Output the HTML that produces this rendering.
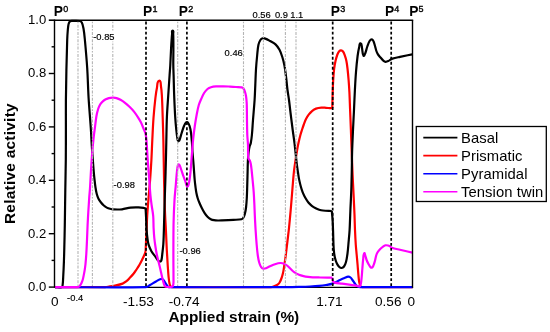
<!DOCTYPE html>
<html><head><meta charset="utf-8"><style>
html,body{margin:0;padding:0;background:#fff;width:550px;height:332px;overflow:hidden}
</style></head><body>
<svg width="550" height="332" viewBox="0 0 550 332" style="display:block;font-family:'Liberation Sans',Arial,sans-serif"><rect width="550" height="332" fill="#fff"/><line x1="54.5" y1="287.3" x2="413.1" y2="287.3" stroke="#000" stroke-width="1.3"/><path d="M55.00,287.10 C71.67,287.10 88.33,287.25 105.00,287.10 C106.34,287.09 107.67,286.80 109.00,286.60 C111.01,286.30 113.02,286.04 115.00,285.60 C117.56,285.04 120.15,284.54 122.60,283.60 C124.03,283.05 125.31,282.15 126.50,281.20 C127.83,280.14 128.93,278.83 130.10,277.60 C131.27,276.37 132.44,275.13 133.50,273.80 C134.44,272.62 135.26,271.35 136.10,270.10 C137.26,268.35 138.45,266.61 139.50,264.80 C140.48,263.11 141.34,261.35 142.20,259.60 C142.94,258.09 143.65,256.55 144.30,255.00 C144.78,253.85 145.17,252.67 145.60,251.50 M145.60,251.50 C145.77,247.67 145.92,243.83 146.10,240.00 C146.26,236.67 146.45,233.33 146.60,230.00 C146.81,225.33 146.91,220.66 147.20,216.00 C147.61,209.33 148.16,202.66 148.70,196.00 C149.13,190.66 149.70,185.34 150.10,180.00 C150.60,173.34 151.03,166.67 151.40,160.00 C151.77,153.34 151.97,146.67 152.30,140.00 C152.67,132.66 152.96,125.32 153.50,118.00 C153.99,111.32 154.64,104.65 155.40,98.00 C155.80,94.48 156.26,90.96 157.00,87.50 C157.50,85.18 156.80,81.28 159.10,80.70 C161.07,80.21 160.63,84.50 161.00,86.50 C161.57,89.63 161.72,92.82 161.90,96.00 C162.29,102.99 162.47,110.00 162.70,117.00 C162.97,125.33 163.22,133.67 163.40,142.00 C163.69,155.33 163.81,168.67 164.10,182.00 C164.31,191.33 164.55,200.67 164.90,210.00 C165.15,216.67 165.58,223.33 165.90,230.00 C166.22,236.67 166.46,243.34 166.80,250.00 C167.06,255.00 167.37,260.00 167.70,265.00 C167.97,269.00 168.20,273.01 168.60,277.00 C168.83,279.35 169.07,281.70 169.60,284.00 C169.81,284.93 170.22,285.85 170.80,286.60 C171.07,286.94 171.57,287.10 172.00,287.10 C205.00,287.26 238.00,287.36 271.00,287.10 C272.03,287.09 273.02,286.64 274.00,286.30 C275.03,285.94 276.07,285.58 277.00,285.00 C277.86,284.46 278.73,283.84 279.30,283.00 C280.23,281.63 280.83,280.05 281.40,278.50 C282.06,276.71 282.58,274.86 283.00,273.00 C283.52,270.69 283.83,268.34 284.20,266.00 C284.63,263.34 285.03,260.67 285.40,258.00 C285.77,255.34 286.07,252.67 286.40,250.00 C286.81,246.67 287.21,243.33 287.60,240.00 C288.07,236.00 288.59,232.01 289.00,228.00 C289.62,222.01 290.17,216.00 290.70,210.00 C291.34,202.67 291.88,195.33 292.50,188.00 C292.95,182.67 293.31,177.32 293.90,172.00 C294.38,167.65 295.06,163.33 295.70,159.00 C296.19,155.66 296.71,152.32 297.30,149.00 C297.71,146.66 298.19,144.32 298.70,142.00 C299.22,139.66 299.77,137.32 300.40,135.00 C300.90,133.15 301.51,131.33 302.10,129.50 C302.64,127.83 303.19,126.15 303.80,124.50 C304.49,122.65 305.12,120.77 306.00,119.00 C306.76,117.46 307.65,115.96 308.70,114.60 C309.76,113.22 310.95,111.91 312.30,110.80 C313.41,109.89 314.65,109.08 316.00,108.60 C317.73,107.99 319.58,107.75 321.40,107.60 C322.93,107.48 324.47,107.70 326.00,107.80 C327.50,107.90 329.00,108.10 330.50,108.20 C331.10,108.24 331.70,108.20 332.30,108.20 M332.30,108.20 C332.40,103.80 332.46,99.40 332.60,95.00 C332.76,90.00 332.91,85.00 333.20,80.00 C333.41,76.33 333.66,72.65 334.10,69.00 C334.43,66.31 334.90,63.64 335.50,61.00 C336.00,58.80 336.60,56.61 337.40,54.50 C337.84,53.33 338.36,52.13 339.20,51.20 C339.66,50.69 340.41,50.35 341.10,50.40 C341.83,50.46 342.56,50.91 343.00,51.50 C343.85,52.65 344.32,54.05 344.80,55.40 C345.45,57.23 346.01,59.10 346.40,61.00 C346.91,63.47 347.21,65.99 347.50,68.50 C347.94,72.33 348.29,76.16 348.60,80.00 C348.92,84.00 349.20,88.00 349.40,92.00 C349.70,98.00 349.86,104.00 350.10,110.00 C350.36,116.67 350.65,123.33 350.90,130.00 C351.18,137.33 351.42,144.67 351.70,152.00 C351.99,159.67 352.26,167.33 352.60,175.00 C352.89,181.67 353.28,188.33 353.60,195.00 C353.92,201.67 354.23,208.33 354.50,215.00 C354.70,220.00 354.78,225.00 355.00,230.00 C355.22,235.00 355.46,240.00 355.80,245.00 C356.03,248.34 356.40,251.67 356.70,255.00 C357.00,258.33 357.32,261.67 357.60,265.00 C357.88,268.33 358.09,271.67 358.40,275.00 C358.62,277.34 358.77,279.69 359.20,282.00 C359.47,283.44 359.79,284.92 360.50,286.20 C360.78,286.71 361.42,287.09 362.00,287.10 C378.93,287.39 395.87,287.10 412.80,287.10" fill="none" stroke="#ff0000" stroke-width="2.2" stroke-linejoin="round"/><path d="M55.00,287.10 C57.20,287.10 59.46,287.61 61.60,287.10 C62.27,286.94 62.50,285.98 62.60,285.30 C63.08,281.89 63.11,278.44 63.30,275.00 C63.54,270.67 63.74,266.33 63.90,262.00 C64.07,257.33 64.19,252.67 64.30,248.00 C64.49,240.33 64.67,232.67 64.80,225.00 C65.00,213.33 65.12,201.67 65.30,190.00 C65.45,180.00 65.70,170.00 65.80,160.00 C65.90,149.33 65.88,138.67 65.90,128.00 C65.92,118.67 65.82,109.33 65.90,100.00 C65.99,90.00 66.18,80.00 66.40,70.00 C66.62,60.00 66.85,50.00 67.20,40.00 C67.32,36.66 67.51,33.33 67.80,30.00 C67.98,27.99 68.11,25.96 68.60,24.00 C68.85,23.02 69.21,21.93 70.00,21.30 C70.66,20.77 71.66,20.93 72.50,20.90 C74.83,20.83 77.20,20.60 79.50,21.00 C80.40,21.16 81.37,21.69 81.80,22.50 C82.78,24.33 83.13,26.45 83.50,28.50 C84.13,31.97 84.47,35.49 84.80,39.00 C85.70,48.66 86.58,58.32 87.20,68.00 C87.84,77.99 88.00,88.01 88.60,98.00 C89.20,108.01 90.13,118.00 90.80,128.00 C91.20,134.00 91.42,140.00 91.80,146.00 C92.05,150.00 92.40,154.00 92.70,158.00 C93.00,162.00 93.26,166.00 93.60,170.00 C93.86,173.14 94.16,176.27 94.50,179.40 C94.79,182.10 95.09,184.81 95.50,187.50 C95.82,189.61 96.15,191.73 96.70,193.80 C97.15,195.51 97.72,197.21 98.50,198.80 C99.16,200.13 100.08,201.33 101.00,202.50 C101.85,203.57 102.77,204.60 103.80,205.50 C104.72,206.31 105.72,207.03 106.80,207.60 C107.81,208.14 108.90,208.50 110.00,208.80 C111.14,209.11 112.32,209.35 113.50,209.40 C116.33,209.52 119.18,209.60 122.00,209.30 C124.87,209.00 127.63,207.93 130.50,207.60 C133.15,207.29 135.83,207.36 138.50,207.40 C140.17,207.43 141.84,207.57 143.50,207.80 C144.22,207.90 144.90,208.20 145.60,208.40 M145.60,208.40 C145.77,211.60 145.95,214.80 146.10,218.00 C146.29,222.00 146.34,226.00 146.60,230.00 C146.77,232.67 147.05,235.34 147.40,238.00 C147.68,240.15 147.87,242.33 148.50,244.40 C149.21,246.76 150.18,249.06 151.40,251.20 C152.60,253.32 154.27,255.13 155.70,257.10 C156.54,258.26 157.22,259.55 158.20,260.60 C158.65,261.08 159.24,261.60 159.90,261.60 C160.47,261.60 161.14,261.15 161.30,260.60 C162.01,258.14 162.09,255.54 162.40,253.00 C162.75,250.14 163.08,247.27 163.30,244.40 C163.51,241.60 163.60,238.80 163.70,236.00 C163.87,231.33 163.97,226.67 164.10,222.00 C164.30,214.67 164.48,207.33 164.70,200.00 C164.88,194.00 165.12,188.00 165.30,182.00 C165.52,174.67 165.72,167.33 165.90,160.00 C166.05,154.00 166.16,148.00 166.30,142.00 C166.49,133.67 166.56,125.33 166.90,117.00 C167.19,109.99 167.75,103.00 168.20,96.00 C168.65,89.00 169.13,82.00 169.60,75.00 C169.83,71.67 170.11,68.34 170.30,65.00 C170.61,59.34 170.81,53.67 171.10,48.00 C171.24,45.33 171.41,42.67 171.60,40.00 C171.74,38.00 171.87,35.99 172.10,34.00 C172.23,32.86 171.55,30.60 172.70,30.60 C173.85,30.60 173.12,32.86 173.20,34.00 C173.34,36.00 173.32,38.00 173.35,40.00 C173.39,42.67 173.41,45.33 173.40,48.00 C173.39,53.67 173.26,59.33 173.30,65.00 C173.32,68.33 173.50,71.67 173.60,75.00 C173.80,82.00 173.93,89.00 174.20,96.00 C174.47,103.00 174.77,110.01 175.20,117.00 C175.47,121.34 175.86,125.67 176.30,130.00 C176.59,132.84 176.90,135.69 177.40,138.50 C177.57,139.43 177.53,140.65 178.30,141.20 C178.76,141.53 179.28,140.52 179.50,140.00 C180.37,137.91 180.81,135.66 181.50,133.50 C182.31,130.99 182.99,128.43 184.00,126.00 C184.56,124.65 185.14,123.21 186.20,122.20 C186.59,121.83 187.44,122.00 187.80,122.40 C188.69,123.40 189.19,124.72 189.60,126.00 C190.23,127.95 190.61,129.97 190.90,132.00 C191.38,135.32 191.63,138.66 191.90,142.00 C192.17,145.33 192.25,148.67 192.50,152.00 C192.82,156.34 193.26,160.66 193.60,165.00 C193.99,170.00 194.27,175.01 194.70,180.00 C194.90,182.34 195.20,184.67 195.50,187.00 C195.76,189.01 196.01,191.01 196.40,193.00 C196.75,194.79 197.17,196.56 197.70,198.30 C198.17,199.83 198.78,201.32 199.40,202.80 C200.14,204.56 200.94,206.30 201.80,208.00 C202.64,209.66 203.49,211.33 204.50,212.90 C205.39,214.28 206.34,215.64 207.50,216.80 C208.46,217.76 209.59,218.57 210.80,219.20 C211.79,219.72 212.90,220.00 214.00,220.20 C215.32,220.44 216.66,220.47 218.00,220.50 C219.30,220.53 220.60,220.46 221.90,220.40 C225.73,220.23 229.57,220.02 233.40,219.80 C236.10,219.65 238.86,219.90 241.50,219.30 C242.37,219.10 243.03,218.26 243.50,217.50 C244.19,216.38 244.58,215.08 244.90,213.80 C245.45,211.57 245.83,209.29 246.10,207.00 C246.46,204.01 246.63,201.00 246.80,198.00 C247.00,194.34 247.09,190.67 247.20,187.00 C247.35,182.00 247.47,177.00 247.60,172.00 C247.70,168.17 247.71,164.33 247.90,160.50 C248.04,157.66 248.26,154.82 248.60,152.00 C248.82,150.15 249.16,148.31 249.60,146.50 C249.89,145.30 250.56,144.21 250.80,143.00 C251.33,140.36 251.64,137.68 251.90,135.00 C252.38,130.01 252.61,125.00 253.00,120.00 C253.51,113.33 254.16,106.67 254.60,100.00 C254.93,95.01 255.07,90.00 255.30,85.00 C255.54,79.67 255.66,74.33 256.00,69.00 C256.30,64.33 256.73,59.66 257.20,55.00 C257.53,51.66 257.70,48.28 258.40,45.00 C258.77,43.24 259.43,41.51 260.40,40.00 C260.91,39.20 261.78,38.56 262.70,38.30 C263.54,38.06 264.48,38.30 265.30,38.60 C266.95,39.21 268.47,40.13 270.00,41.00 C271.87,42.07 273.92,42.94 275.50,44.40 C277.14,45.92 278.44,47.83 279.50,49.80 C280.72,52.07 281.52,54.54 282.30,57.00 C283.16,59.72 283.88,62.49 284.40,65.30 C285.18,69.50 285.67,73.76 286.20,78.00 C286.70,81.99 286.99,86.01 287.50,90.00 C287.93,93.34 288.56,96.66 289.00,100.00 C289.66,104.99 290.18,110.00 290.80,115.00 C291.42,120.00 292.04,125.00 292.70,130.00 C293.27,134.34 293.96,138.66 294.50,143.00 C295.00,146.99 295.36,151.00 295.80,155.00 C296.16,158.33 296.48,161.67 296.90,165.00 C297.22,167.51 297.62,170.00 298.00,172.50 C298.35,174.80 298.64,177.12 299.10,179.40 C299.58,181.79 300.15,184.15 300.80,186.50 C301.35,188.49 301.94,190.48 302.70,192.40 C303.44,194.26 304.32,196.06 305.30,197.80 C306.22,199.43 307.22,201.04 308.40,202.50 C309.40,203.73 310.56,204.82 311.80,205.80 C313.01,206.76 314.33,207.58 315.70,208.30 C316.81,208.89 318.00,209.33 319.20,209.70 C320.41,210.07 321.64,210.37 322.90,210.50 C325.86,210.80 328.83,210.83 331.80,211.00 M331.80,211.00 C332.07,214.00 332.41,216.99 332.60,220.00 C332.85,224.00 332.95,228.00 333.10,232.00 C333.31,237.67 333.29,243.34 333.70,249.00 C333.92,252.02 334.34,255.04 335.00,258.00 C335.45,260.00 336.12,261.95 337.00,263.80 C337.57,264.99 338.32,266.12 339.30,267.00 C339.95,267.58 340.84,268.09 341.70,268.00 C342.61,267.90 343.47,267.24 344.00,266.50 C344.96,265.17 345.57,263.59 346.00,262.00 C346.75,259.22 347.12,256.35 347.50,253.50 C347.96,250.01 348.19,246.50 348.50,243.00 C348.89,238.67 349.35,234.34 349.60,230.00 C349.98,223.34 350.12,216.67 350.40,210.00 C350.68,203.33 351.07,196.67 351.30,190.00 C351.53,183.34 351.66,176.67 351.80,170.00 C351.93,164.00 351.92,158.00 352.10,152.00 C352.32,144.66 352.67,137.33 353.00,130.00 C353.27,124.00 353.61,118.00 353.90,112.00 C354.25,104.67 354.52,97.33 354.90,90.00 C355.22,84.00 355.52,77.99 356.00,72.00 C356.42,66.66 356.92,61.32 357.60,56.00 C357.99,52.98 358.49,49.96 359.20,47.00 C359.50,45.75 359.39,42.97 360.60,43.40 C362.11,43.94 361.64,46.44 362.00,48.00 C362.60,50.58 362.17,53.51 363.50,55.80 C363.98,56.62 364.84,54.38 365.20,53.50 C366.12,51.24 366.49,48.80 367.30,46.50 C367.96,44.63 368.53,42.67 369.60,41.00 C370.11,40.20 370.95,39.18 371.90,39.30 C372.82,39.41 373.21,40.66 373.60,41.50 C374.26,42.93 374.56,44.49 375.00,46.00 C375.43,47.49 375.70,49.03 376.20,50.50 C376.63,51.77 377.10,53.06 377.80,54.20 C378.54,55.41 379.57,56.42 380.50,57.50 C381.41,58.56 382.24,59.70 383.30,60.60 C383.96,61.16 384.74,61.71 385.60,61.80 C386.53,61.89 387.45,61.48 388.30,61.10 C389.11,60.74 389.74,60.05 390.50,59.60 C391.14,59.22 391.78,58.80 392.50,58.60 C394.97,57.90 397.49,57.44 400.00,56.90 C404.10,56.01 408.20,55.17 412.30,54.30" fill="none" stroke="#000" stroke-width="2.2" stroke-linejoin="round"/><path d="M55.00,287.10 C85.33,287.10 115.67,287.77 146.00,287.10 C147.51,287.07 148.69,285.74 150.00,285.00 C152.02,283.87 153.97,282.61 156.00,281.50 C157.64,280.61 159.17,279.37 161.00,279.00 C161.88,278.82 162.84,279.39 163.50,280.00 C164.42,280.86 164.80,282.15 165.50,283.20 C166.14,284.15 166.73,285.15 167.50,286.00 C167.91,286.46 168.38,287.09 169.00,287.10 C210.00,287.46 251.00,287.16 292.00,287.10 C294.67,287.10 297.33,286.99 300.00,286.90 C303.33,286.79 306.67,286.67 310.00,286.50 C313.04,286.34 316.07,286.18 319.10,285.90 C321.41,285.68 323.71,285.39 326.00,285.00 C328.18,284.63 330.41,284.35 332.50,283.60 C335.11,282.67 337.49,281.17 340.00,280.00 C341.49,279.31 342.98,278.63 344.50,278.00 C345.72,277.49 346.89,276.71 348.20,276.60 C349.02,276.53 349.85,276.99 350.50,277.50 C351.34,278.16 351.87,279.14 352.50,280.00 C353.21,280.97 353.81,282.01 354.50,283.00 C355.05,283.78 355.51,284.64 356.20,285.30 C356.86,285.93 357.67,286.41 358.50,286.80 C358.96,287.02 359.49,287.10 360.00,287.10 C377.60,287.20 395.20,287.10 412.80,287.10" fill="none" stroke="#0000ff" stroke-width="2.2" stroke-linejoin="round"/><path d="M55.00,287.10 C62.43,287.10 69.87,287.26 77.30,287.10 C77.86,287.09 78.43,286.90 78.90,286.60 C79.46,286.25 79.91,285.74 80.30,285.20 C80.79,284.52 81.16,283.76 81.50,283.00 C82.00,281.86 82.47,280.70 82.80,279.50 C83.27,277.82 83.57,276.11 83.90,274.40 C84.23,272.71 84.54,271.01 84.80,269.30 C85.07,267.54 85.33,265.77 85.50,264.00 C85.83,260.67 86.09,257.34 86.30,254.00 C86.59,249.34 86.79,244.67 87.00,240.00 C87.22,235.00 87.37,230.00 87.60,225.00 C87.80,220.67 88.04,216.33 88.30,212.00 C88.58,207.33 88.87,202.66 89.20,198.00 C89.44,194.66 89.78,191.34 90.00,188.00 C90.35,182.67 90.58,177.33 90.90,172.00 C91.18,167.33 91.46,162.66 91.80,158.00 C92.09,154.00 92.44,150.00 92.80,146.00 C93.10,142.66 93.41,139.33 93.80,136.00 C94.15,132.99 94.61,130.00 95.00,127.00 C95.47,123.40 95.79,119.78 96.40,116.20 C96.79,113.94 97.34,111.70 98.00,109.50 C98.41,108.12 98.93,106.77 99.60,105.50 C100.17,104.42 100.89,103.41 101.70,102.50 C102.53,101.57 103.46,100.70 104.50,100.00 C105.42,99.38 106.46,98.96 107.50,98.60 C108.47,98.26 109.49,98.06 110.50,97.90 C111.42,97.76 112.36,97.67 113.30,97.70 C114.37,97.74 115.47,97.80 116.50,98.10 C117.89,98.51 119.23,99.10 120.50,99.80 C122.08,100.67 123.58,101.69 125.00,102.80 C126.58,104.03 128.07,105.40 129.50,106.80 C131.07,108.33 132.62,109.90 134.00,111.60 C135.46,113.40 136.75,115.35 138.00,117.30 C139.08,118.98 140.12,120.70 141.00,122.50 C142.03,124.61 142.84,126.82 143.70,129.00 C144.41,130.79 145.28,132.53 145.70,134.40 C146.26,136.89 146.39,139.46 146.60,142.00 C146.96,146.33 147.12,150.67 147.40,155.00 C147.68,159.33 147.97,163.67 148.30,168.00 C148.60,172.00 148.99,176.00 149.30,180.00 C149.69,185.00 149.94,190.01 150.40,195.00 C150.71,198.34 151.16,201.67 151.60,205.00 C152.09,208.67 152.88,212.31 153.20,216.00 C153.55,219.99 153.40,224.00 153.60,228.00 C153.77,231.34 153.97,234.68 154.30,238.00 C154.60,241.01 155.05,244.01 155.50,247.00 C155.85,249.34 156.24,251.68 156.70,254.00 C157.10,256.01 157.62,258.00 158.10,260.00 C158.58,262.00 159.12,263.99 159.60,266.00 C160.16,268.33 160.67,270.67 161.20,273.00 C161.73,275.33 162.20,277.68 162.80,280.00 C163.24,281.68 163.60,283.41 164.30,285.00 C164.62,285.71 165.04,286.62 165.80,286.80 C167.81,287.27 170.02,287.41 172.00,286.80 C172.84,286.54 173.15,285.37 173.30,284.50 C173.66,282.36 173.49,280.17 173.50,278.00 C173.52,272.67 173.42,267.33 173.40,262.00 C173.38,256.33 173.37,250.67 173.40,245.00 C173.44,237.33 173.41,229.66 173.60,222.00 C173.78,214.66 174.06,207.33 174.50,200.00 C174.80,194.99 175.38,190.00 175.80,185.00 C176.08,181.67 176.29,178.33 176.60,175.00 C176.82,172.66 177.02,170.32 177.40,168.00 C177.59,166.81 177.61,165.49 178.30,164.50 C178.55,164.14 179.28,164.63 179.50,165.00 C180.23,166.22 180.53,167.66 181.00,169.00 C181.76,171.19 182.43,173.41 183.20,175.60 C183.83,177.41 184.58,179.18 185.20,181.00 C185.71,182.49 185.98,184.06 186.60,185.50 C186.80,185.96 187.16,186.82 187.60,186.60 C188.29,186.25 188.39,185.25 188.60,184.50 C189.06,182.86 189.34,181.18 189.60,179.50 C189.98,177.01 190.26,174.51 190.50,172.00 C190.82,168.67 191.04,165.33 191.30,162.00 C191.61,158.00 191.87,154.00 192.20,150.00 C192.53,146.00 192.87,141.99 193.30,138.00 C193.73,133.99 194.22,129.99 194.80,126.00 C195.39,121.99 196.04,117.98 196.80,114.00 C197.38,110.98 197.93,107.95 198.80,105.00 C199.41,102.93 200.33,100.97 201.20,99.00 C202.10,96.97 202.92,94.88 204.10,93.00 C205.03,91.52 206.16,90.13 207.50,89.00 C208.50,88.16 209.75,87.58 211.00,87.20 C212.61,86.71 214.32,86.52 216.00,86.40 C218.39,86.22 220.80,86.27 223.20,86.30 C225.47,86.33 227.73,86.48 230.00,86.60 C232.00,86.71 234.00,86.88 236.00,87.00 C237.87,87.11 239.76,86.97 241.60,87.30 C242.25,87.42 242.89,87.78 243.30,88.30 C244.04,89.24 244.51,90.37 244.90,91.50 C245.41,92.96 245.76,94.47 246.00,96.00 C246.36,98.32 246.57,100.66 246.70,103.00 C246.87,106.00 246.85,109.00 246.90,112.00 C246.95,115.33 246.94,118.67 247.00,122.00 C247.08,126.33 247.11,130.67 247.30,135.00 C247.45,138.34 247.85,141.66 248.00,145.00 C248.19,149.33 247.80,153.69 248.30,158.00 C248.41,158.97 249.43,159.60 249.80,160.50 C250.27,161.62 250.57,162.81 250.80,164.00 C251.18,165.98 251.37,167.99 251.60,170.00 C251.97,173.33 252.28,176.67 252.60,180.00 C252.98,184.00 253.41,187.99 253.70,192.00 C254.01,196.33 254.19,200.67 254.40,205.00 C254.56,208.33 254.64,211.67 254.80,215.00 C255.04,220.00 255.28,225.00 255.60,230.00 C255.92,235.00 256.27,240.01 256.70,245.00 C257.00,248.51 257.30,252.02 257.80,255.50 C258.14,257.86 258.55,260.21 259.20,262.50 C259.62,264.00 260.12,265.52 261.00,266.80 C261.57,267.62 262.44,268.33 263.40,268.60 C264.24,268.84 265.17,268.49 266.00,268.20 C267.39,267.71 268.65,266.90 270.00,266.30 C271.65,265.57 273.28,264.74 275.00,264.20 C276.79,263.64 278.63,263.10 280.50,263.00 C281.69,262.93 282.89,263.27 284.00,263.70 C285.09,264.12 286.08,264.78 287.00,265.50 C288.26,266.49 289.32,267.71 290.50,268.80 C291.82,270.01 293.03,271.37 294.50,272.40 C295.89,273.38 297.43,274.15 299.00,274.80 C300.44,275.39 301.98,275.75 303.50,276.10 C304.98,276.45 306.49,276.70 308.00,276.90 C309.56,277.10 311.13,277.22 312.70,277.30 C315.13,277.42 317.57,277.45 320.00,277.50 C324.10,277.58 328.20,277.63 332.30,277.70 M332.30,277.70 C332.53,278.87 332.51,280.11 333.00,281.20 C333.28,281.82 333.84,282.42 334.50,282.60 C336.94,283.25 339.50,283.25 342.00,283.60 C344.97,284.02 347.94,284.46 350.90,284.90 C352.60,285.16 354.30,285.41 356.00,285.70 C357.20,285.91 358.45,286.81 359.60,286.40 C360.44,286.10 360.60,284.87 360.80,284.00 C361.31,281.70 361.47,279.34 361.70,277.00 C362.00,274.01 362.15,271.00 362.40,268.00 C362.65,265.00 362.84,261.99 363.20,259.00 C363.44,257.05 363.19,254.88 364.20,253.20 C364.64,252.47 365.02,254.70 365.30,255.50 C365.82,256.97 366.05,258.54 366.60,260.00 C367.15,261.45 367.87,262.83 368.60,264.20 C369.10,265.14 369.58,266.12 370.30,266.90 C370.68,267.32 371.28,267.92 371.80,267.70 C372.61,267.36 373.03,266.40 373.40,265.60 C374.08,264.14 374.47,262.55 374.90,261.00 C375.40,259.18 375.65,257.30 376.20,255.50 C376.55,254.36 376.98,253.22 377.60,252.20 C378.26,251.10 379.11,250.12 380.00,249.20 C380.85,248.31 381.80,247.51 382.80,246.80 C383.64,246.20 384.50,245.55 385.50,245.30 C386.31,245.10 387.19,245.30 388.00,245.50 C388.71,245.67 389.37,246.03 390.00,246.40 C390.68,246.80 391.16,247.55 391.90,247.80 C394.53,248.70 397.29,249.16 400.00,249.80 C404.09,250.76 408.20,251.67 412.30,252.60" fill="none" stroke="#ff00ff" stroke-width="2.2" stroke-linejoin="round"/><line x1="78.0" y1="20.900000000000002" x2="78.0" y2="287.1" stroke="#b4b4b4" stroke-width="1.1" stroke-dasharray="3 1.3 1.6 1.4" stroke-dashoffset="3.5"/><line x1="92.4" y1="20.900000000000002" x2="92.4" y2="287.1" stroke="#b4b4b4" stroke-width="1.1" stroke-dasharray="3 1.3 1.6 1.4" stroke-dashoffset="3.5"/><line x1="112.8" y1="20.900000000000002" x2="112.8" y2="287.1" stroke="#b4b4b4" stroke-width="1.1" stroke-dasharray="3 1.3 1.6 1.4" stroke-dashoffset="3.5"/><line x1="177.7" y1="20.900000000000002" x2="177.7" y2="287.1" stroke="#b4b4b4" stroke-width="1.1" stroke-dasharray="3 1.3 1.6 1.4" stroke-dashoffset="3.5"/><line x1="243.5" y1="20.900000000000002" x2="243.5" y2="287.1" stroke="#b4b4b4" stroke-width="1.1" stroke-dasharray="3 1.3 1.6 1.4" stroke-dashoffset="3.5"/><line x1="263.4" y1="20.900000000000002" x2="263.4" y2="287.1" stroke="#b4b4b4" stroke-width="1.1" stroke-dasharray="3 1.3 1.6 1.4" stroke-dashoffset="3.5"/><line x1="285.4" y1="20.900000000000002" x2="285.4" y2="287.1" stroke="#b4b4b4" stroke-width="1.1" stroke-dasharray="3 1.3 1.6 1.4" stroke-dashoffset="3.5"/><line x1="296.0" y1="20.900000000000002" x2="296.0" y2="287.1" stroke="#b4b4b4" stroke-width="1.1" stroke-dasharray="3 1.3 1.6 1.4" stroke-dashoffset="3.5"/><line x1="146.0" y1="21.6" x2="146.0" y2="287.1" stroke="#000" stroke-width="1.7" stroke-dasharray="2.9 2.13"/><line x1="186.9" y1="21.6" x2="186.9" y2="287.1" stroke="#000" stroke-width="1.7" stroke-dasharray="2.9 2.13"/><line x1="332.7" y1="21.6" x2="332.7" y2="287.1" stroke="#000" stroke-width="1.7" stroke-dasharray="2.9 2.13"/><line x1="391.2" y1="21.6" x2="391.2" y2="287.1" stroke="#000" stroke-width="1.7" stroke-dasharray="2.9 2.13"/><line x1="54.5" y1="20.2" x2="413.2" y2="20.2" stroke="#000" stroke-width="1.6"/><line x1="412.5" y1="20.2" x2="412.5" y2="287.70000000000005" stroke="#000" stroke-width="1.4"/><line x1="54.5" y1="19.4" x2="54.5" y2="287.8" stroke="#000" stroke-width="1.4"/><line x1="48.8" y1="287.10" x2="54.5" y2="287.10" stroke="#000" stroke-width="1.4"/><line x1="51.6" y1="260.40" x2="54.5" y2="260.40" stroke="#000" stroke-width="1.4"/><line x1="48.8" y1="233.70" x2="54.5" y2="233.70" stroke="#000" stroke-width="1.4"/><line x1="51.6" y1="207.00" x2="54.5" y2="207.00" stroke="#000" stroke-width="1.4"/><line x1="48.8" y1="180.30" x2="54.5" y2="180.30" stroke="#000" stroke-width="1.4"/><line x1="51.6" y1="153.60" x2="54.5" y2="153.60" stroke="#000" stroke-width="1.4"/><line x1="48.8" y1="126.90" x2="54.5" y2="126.90" stroke="#000" stroke-width="1.4"/><line x1="51.6" y1="100.20" x2="54.5" y2="100.20" stroke="#000" stroke-width="1.4"/><line x1="48.8" y1="73.50" x2="54.5" y2="73.50" stroke="#000" stroke-width="1.4"/><line x1="51.6" y1="46.80" x2="54.5" y2="46.80" stroke="#000" stroke-width="1.4"/><line x1="48.8" y1="20.20" x2="54.5" y2="20.20" stroke="#000" stroke-width="1.6"/><text x="46.2" y="291.00" font-size="13.1" text-anchor="end">0.0</text><text x="46.2" y="237.60" font-size="13.1" text-anchor="end">0.2</text><text x="46.2" y="184.20" font-size="13.1" text-anchor="end">0.4</text><text x="46.2" y="130.80" font-size="13.1" text-anchor="end">0.6</text><text x="46.2" y="77.40" font-size="13.1" text-anchor="end">0.8</text><text x="46.2" y="24.00" font-size="13.1" text-anchor="end">1.0</text><text x="54.9" y="305.6" font-size="13.6" text-anchor="middle" font-weight="normal" >0</text><text x="122.9" y="305.6" font-size="13.6" text-anchor="start" font-weight="normal" >-1.53</text><text x="168.7" y="305.6" font-size="13.6" text-anchor="start" font-weight="normal" >-0.74</text><text x="316.2" y="305.6" font-size="13.6" text-anchor="start" font-weight="normal" >1.71</text><text x="375.0" y="305.6" font-size="13.6" text-anchor="start" font-weight="normal" >0.56</text><text x="411.3" y="305.6" font-size="13.6" text-anchor="middle" font-weight="normal" >0</text><text font-size="9.0" transform="translate(67.12,300.6) scale(1.04,1.08)" stroke="#000" stroke-width="0.16">-0.4</text><text x="53.85" y="15.7" font-size="13.8" font-weight="bold">P<tspan font-size="9" font-weight="normal" dy="-3.5" dx="0.2" stroke="#000" stroke-width="0.35">0</tspan></text><text x="143.05" y="15.7" font-size="13.8" font-weight="bold">P<tspan font-size="9" font-weight="normal" dy="-3.5" dx="0.2" stroke="#000" stroke-width="0.35">1</tspan></text><text x="178.75" y="15.7" font-size="13.8" font-weight="bold">P<tspan font-size="9" font-weight="normal" dy="-3.5" dx="0.2" stroke="#000" stroke-width="0.35">2</tspan></text><text x="330.85" y="15.7" font-size="13.8" font-weight="bold">P<tspan font-size="9" font-weight="normal" dy="-3.5" dx="0.2" stroke="#000" stroke-width="0.35">3</tspan></text><text x="384.95" y="15.7" font-size="13.8" font-weight="bold">P<tspan font-size="9" font-weight="normal" dy="-3.5" dx="0.2" stroke="#000" stroke-width="0.35">4</tspan></text><text x="409.15" y="15.7" font-size="13.8" font-weight="bold">P<tspan font-size="9" font-weight="normal" dy="-3.5" dx="0.2" stroke="#000" stroke-width="0.35">5</tspan></text><rect x="93.5" y="31" width="21" height="10.5" fill="#fff"/><text font-size="9.0" transform="translate(93.22,39.7) scale(1.04,1.08)" stroke="#000" stroke-width="0.16">-0.85</text><rect x="114" y="180" width="21" height="10.5" fill="#fff"/><text font-size="9.0" transform="translate(113.62,188.4) scale(1.04,1.08)" stroke="#000" stroke-width="0.16">-0.98</text><rect x="179.5" y="243" width="21" height="16" fill="#fff"/><text font-size="9.0" transform="translate(179.51,254.4) scale(1.04,1.08)" stroke="#000" stroke-width="0.16">-0.96</text><rect x="224.5" y="47" width="18" height="10.5" fill="#fff"/><text font-size="9.0" transform="translate(224.59,55.5) scale(1.04,1.08)" stroke="#000" stroke-width="0.16">0.46</text><text font-size="9.0" transform="translate(252.5,17.7) scale(1.04,1.08)" stroke="#000" stroke-width="0.16">0.56</text><text font-size="9.0" transform="translate(274.9,17.7) scale(1.04,1.08)" stroke="#000" stroke-width="0.16">0.9</text><text font-size="9.0" transform="translate(290.25,17.7) scale(1.04,1.08)" stroke="#000" stroke-width="0.16">1.1</text><text x="233.8" y="321.7" font-size="15.4" text-anchor="middle" font-weight="bold" >Applied strain (%)</text><text transform="translate(15.2,163.6) rotate(-90)" font-size="15.4" font-weight="bold" text-anchor="middle" letter-spacing="0.27">Relative activity</text><rect x="416.3" y="126.5" width="130" height="75" fill="#fff" stroke="#000" stroke-width="1.3"/><line x1="423.3" y1="137.60" x2="457.4" y2="137.60" stroke="#000" stroke-width="1.9"/><text x="461.0" y="143.00" font-size="14.8" text-anchor="start" font-weight="normal" letter-spacing="0.08">Basal</text><line x1="423.3" y1="155.67" x2="457.4" y2="155.67" stroke="#ff0000" stroke-width="1.6"/><text x="461.0" y="161.07" font-size="14.8" text-anchor="start" font-weight="normal" letter-spacing="0.08">Prismatic</text><line x1="423.3" y1="173.74" x2="457.4" y2="173.74" stroke="#0000ff" stroke-width="1.6"/><text x="461.0" y="179.14" font-size="14.8" text-anchor="start" font-weight="normal" letter-spacing="0.08">Pyramidal</text><line x1="423.3" y1="191.81" x2="457.4" y2="191.81" stroke="#ff00ff" stroke-width="1.6"/><text x="461.0" y="197.21" font-size="14.8" text-anchor="start" font-weight="normal" letter-spacing="0.08">Tension twin</text></svg>
</body></html>
